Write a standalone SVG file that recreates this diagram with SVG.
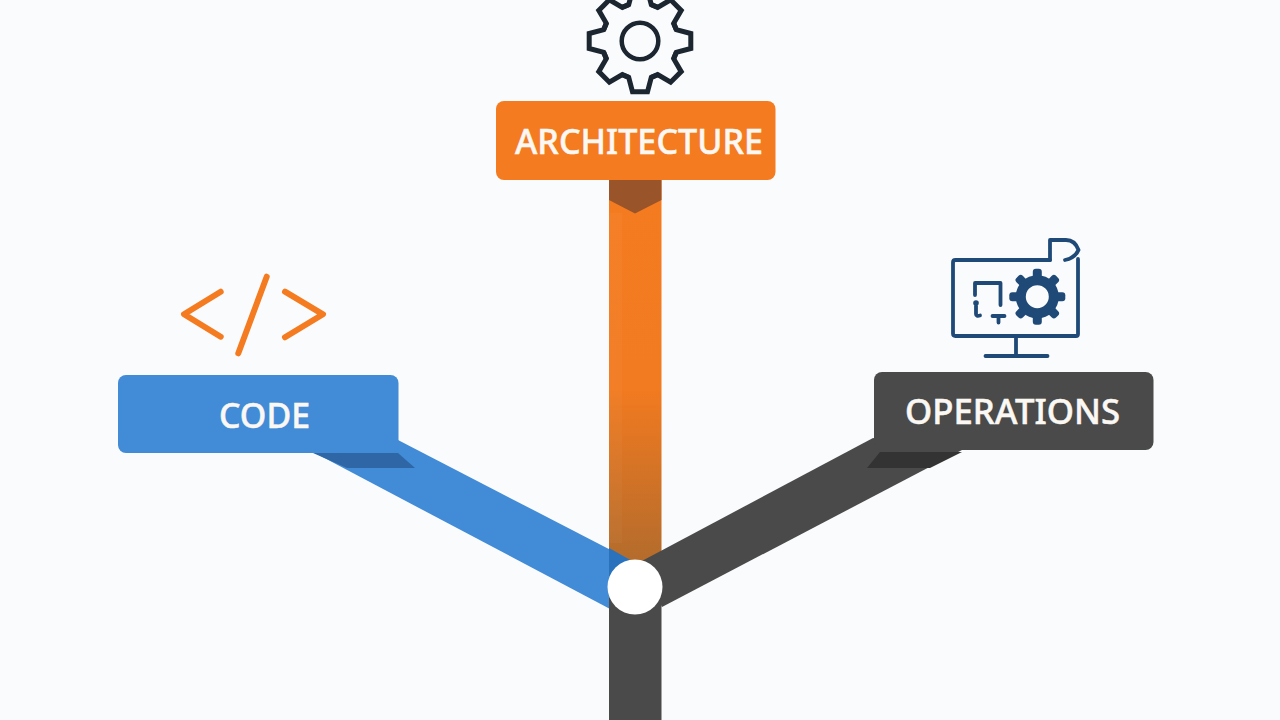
<svg xmlns="http://www.w3.org/2000/svg" xmlns:xlink="http://www.w3.org/1999/xlink" width="1280" height="720" viewBox="0 0 1280 720">
  <style>
    .label { font-family: "Noto Sans", "Open Sans", "Liberation Sans", sans-serif; font-weight: 500; font-size: 35px; fill: #fbf8f4; stroke: #fbf8f4; stroke-width: 0.5; text-anchor: middle; }
    .gearline { fill: none; stroke: #1b2631; stroke-width: 5; stroke-linejoin: miter; }
    .code { fill: none; stroke: #f47b20; stroke-width: 6; stroke-linecap: round; stroke-linejoin: round; }
    .mon { fill: none; stroke: #1f4a78; stroke-width: 3.8; stroke-linecap: round; stroke-linejoin: round; }
  </style>
  <defs>
    <linearGradient id="orangeStem" x1="0" y1="180" x2="0" y2="560" gradientUnits="userSpaceOnUse">
      <stop offset="0" stop-color="#f47b20"/>
      <stop offset="0.55" stop-color="#f27a20"/>
      <stop offset="1" stop-color="#b46c2c"/>
    </linearGradient>
    <path id="gearTooth" d="M-17.700,-33.700 L-11.300,-36.300 L-7.500,-50.800 L7.500,-50.800 L11.300,-36.300 L17.700,-33.700"/>
    <rect id="monTooth" x="-4.500" y="-28" width="9" height="10" rx="3"/>
  </defs>
  <rect width="1280" height="720" fill="#fafbfc"/>
  <g id="connectors">
    <polygon points="609,180 661.500,180 661.500,552 638,566 632,566 609,552" fill="url(#orangeStem)"/>
    <rect x="609" y="213" width="13" height="330" fill="#ffffff" opacity="0.03"/>
    <polygon points="609,180 661.500,180 661.500,200 635,213.500 609,200" fill="#99542a"/>
    <polygon points="398,440 632,561 612,610 315,453" fill="#428bd6"/>
    <polygon points="609,548 632,561 612,580 609,580" fill="#2a72bc"/>
    <polygon points="873,438 640,562 662,607 962,450" fill="#4a4a4a"/>
    <rect x="609" y="595" width="52.500" height="125" fill="#4a4a4a"/>
    <polygon points="313,453 398,453 415,468 347,468" fill="#2e66a6"/>
    <polygon points="880,452 962,452 930,468 867,468" fill="#333333"/>
  </g>
  <g id="hub">
    <circle cx="635" cy="587" r="27.500" fill="#ffffff"/>
  </g>
  <g id="architecture">
    <rect x="496" y="101" width="279.500" height="79" rx="8" fill="#f47b20"/>
    <text class="label" x="639" y="154" textLength="248" lengthAdjust="spacingAndGlyphs">ARCHITECTURE</text>
    <g id="architecture-icon" class="gearline" transform="translate(640 41)">
      <use xlink:href="#gearTooth" href="#gearTooth"/>
      <use xlink:href="#gearTooth" href="#gearTooth" transform="rotate(45)"/>
      <use xlink:href="#gearTooth" href="#gearTooth" transform="rotate(90)"/>
      <use xlink:href="#gearTooth" href="#gearTooth" transform="rotate(135)"/>
      <use xlink:href="#gearTooth" href="#gearTooth" transform="rotate(180)"/>
      <use xlink:href="#gearTooth" href="#gearTooth" transform="rotate(225)"/>
      <use xlink:href="#gearTooth" href="#gearTooth" transform="rotate(270)"/>
      <use xlink:href="#gearTooth" href="#gearTooth" transform="rotate(315)"/>
      <circle r="18.300" stroke-width="4.500"/>
    </g>
  </g>
  <g id="code">
    <rect x="118" y="375" width="280.500" height="78" rx="8" fill="#428bd6"/>
    <text class="label" x="264.500" y="428" textLength="91" lengthAdjust="spacingAndGlyphs">CODE</text>
    <g id="code-icon" class="code">
      <polyline points="220.700,291.700 184,314.300 220.700,336.700"/>
      <line x1="266.700" y1="276.700" x2="238.300" y2="353.300"/>
      <polyline points="285,291.700 323,314.300 285,337.300"/>
    </g>
  </g>
  <g id="operations">
    <rect x="874" y="372" width="279.500" height="78" rx="8" fill="#4a4a4a"/>
    <text class="label" x="1012.500" y="424" textLength="215" lengthAdjust="spacingAndGlyphs">OPERATIONS</text>
    <g id="operations-icon">
      <g class="mon">
        <path d="M1050,260 H955.500 Q953,260 953,262.500 V333.500 Q953,336 955.500,336 H1076 Q1078,336 1078,334 V259"/>
        <path d="M1050,260 V240 H1066 Q1075,240 1078.500,250 Q1075,258 1065,260"/>
        <path d="M1016,336 V356 M985.500,356 H1047.500"/>
        <path d="M975,295 V283 H1000.500 V305"/>
        <path d="M976,306 V314 Q976,316.500 980,315.500"/>
        <path d="M992.500,316 H1004.500 M998.500,316 V322.500"/>
      </g>
      <circle cx="976" cy="303" r="2.800" fill="#1f4a78"/>
      <g transform="translate(1037.300 296.700)" fill="#1f4a78">
        <circle r="16.500" fill="none" stroke="#1f4a78" stroke-width="10"/>
        <use xlink:href="#monTooth" href="#monTooth"/>
        <use xlink:href="#monTooth" href="#monTooth" transform="rotate(45)"/>
        <use xlink:href="#monTooth" href="#monTooth" transform="rotate(90)"/>
        <use xlink:href="#monTooth" href="#monTooth" transform="rotate(135)"/>
        <use xlink:href="#monTooth" href="#monTooth" transform="rotate(180)"/>
        <use xlink:href="#monTooth" href="#monTooth" transform="rotate(225)"/>
        <use xlink:href="#monTooth" href="#monTooth" transform="rotate(270)"/>
        <use xlink:href="#monTooth" href="#monTooth" transform="rotate(315)"/>
      </g>
    </g>
  </g>
</svg>
